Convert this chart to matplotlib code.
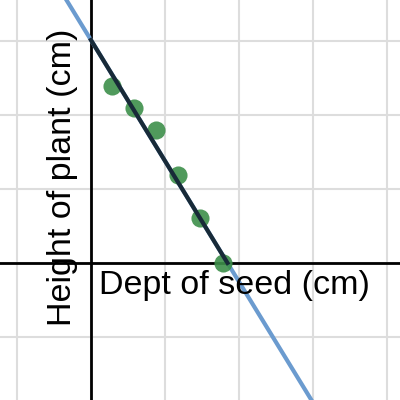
import matplotlib
matplotlib.use("Agg")
import matplotlib.pyplot as plt
import numpy as np

depth = [0.28, 0.58, 0.88, 1.18, 1.47, 1.78]
height = [2.39, 2.09, 1.79, 1.19, 0.61, 0.0]
intercept = 3.01
slope = -1.63

fig = plt.figure(figsize=(4, 4), dpi=100)
ax = fig.add_axes([0, 0, 1, 1])
ax.set_xlim(-1.23, 4.18)
ax.set_ylim(-1.85, 3.55)
for v in np.arange(-1, 5):
    ax.axvline(v, color="#dddddd", lw=1.5, zorder=0)
for v in np.arange(-1, 4):
    ax.axhline(v, color="#dddddd", lw=1.5, zorder=0)
ax.axhline(0, color="black", lw=2, zorder=1)
ax.axvline(0, color="black", lw=2, zorder=1)
ax.set_axis_off()

xs = np.array([-1.5, 4.5])
ax.plot(xs, intercept + slope * xs, color="#6b9bcf", lw=3, zorder=2)
ax.scatter(depth, height, s=170, color="#3d8f4a", alpha=0.9, zorder=3, linewidths=0)
xb = np.array([0, -intercept / slope])
ax.plot(xb, intercept + slope * xb, color="#182a38", lw=3, zorder=4)

ax.text(0.11, -0.3, "Dept of seed (cm)", fontsize=24.5, family="Liberation Sans",
        ha="left", va="center", zorder=5)
ax.text(-0.38, 1.15, "Height of plant (cm)", fontsize=24.5, family="Liberation Sans",
        rotation=90, ha="center", va="center", zorder=5)
fig.savefig("out.png", dpi=100)
